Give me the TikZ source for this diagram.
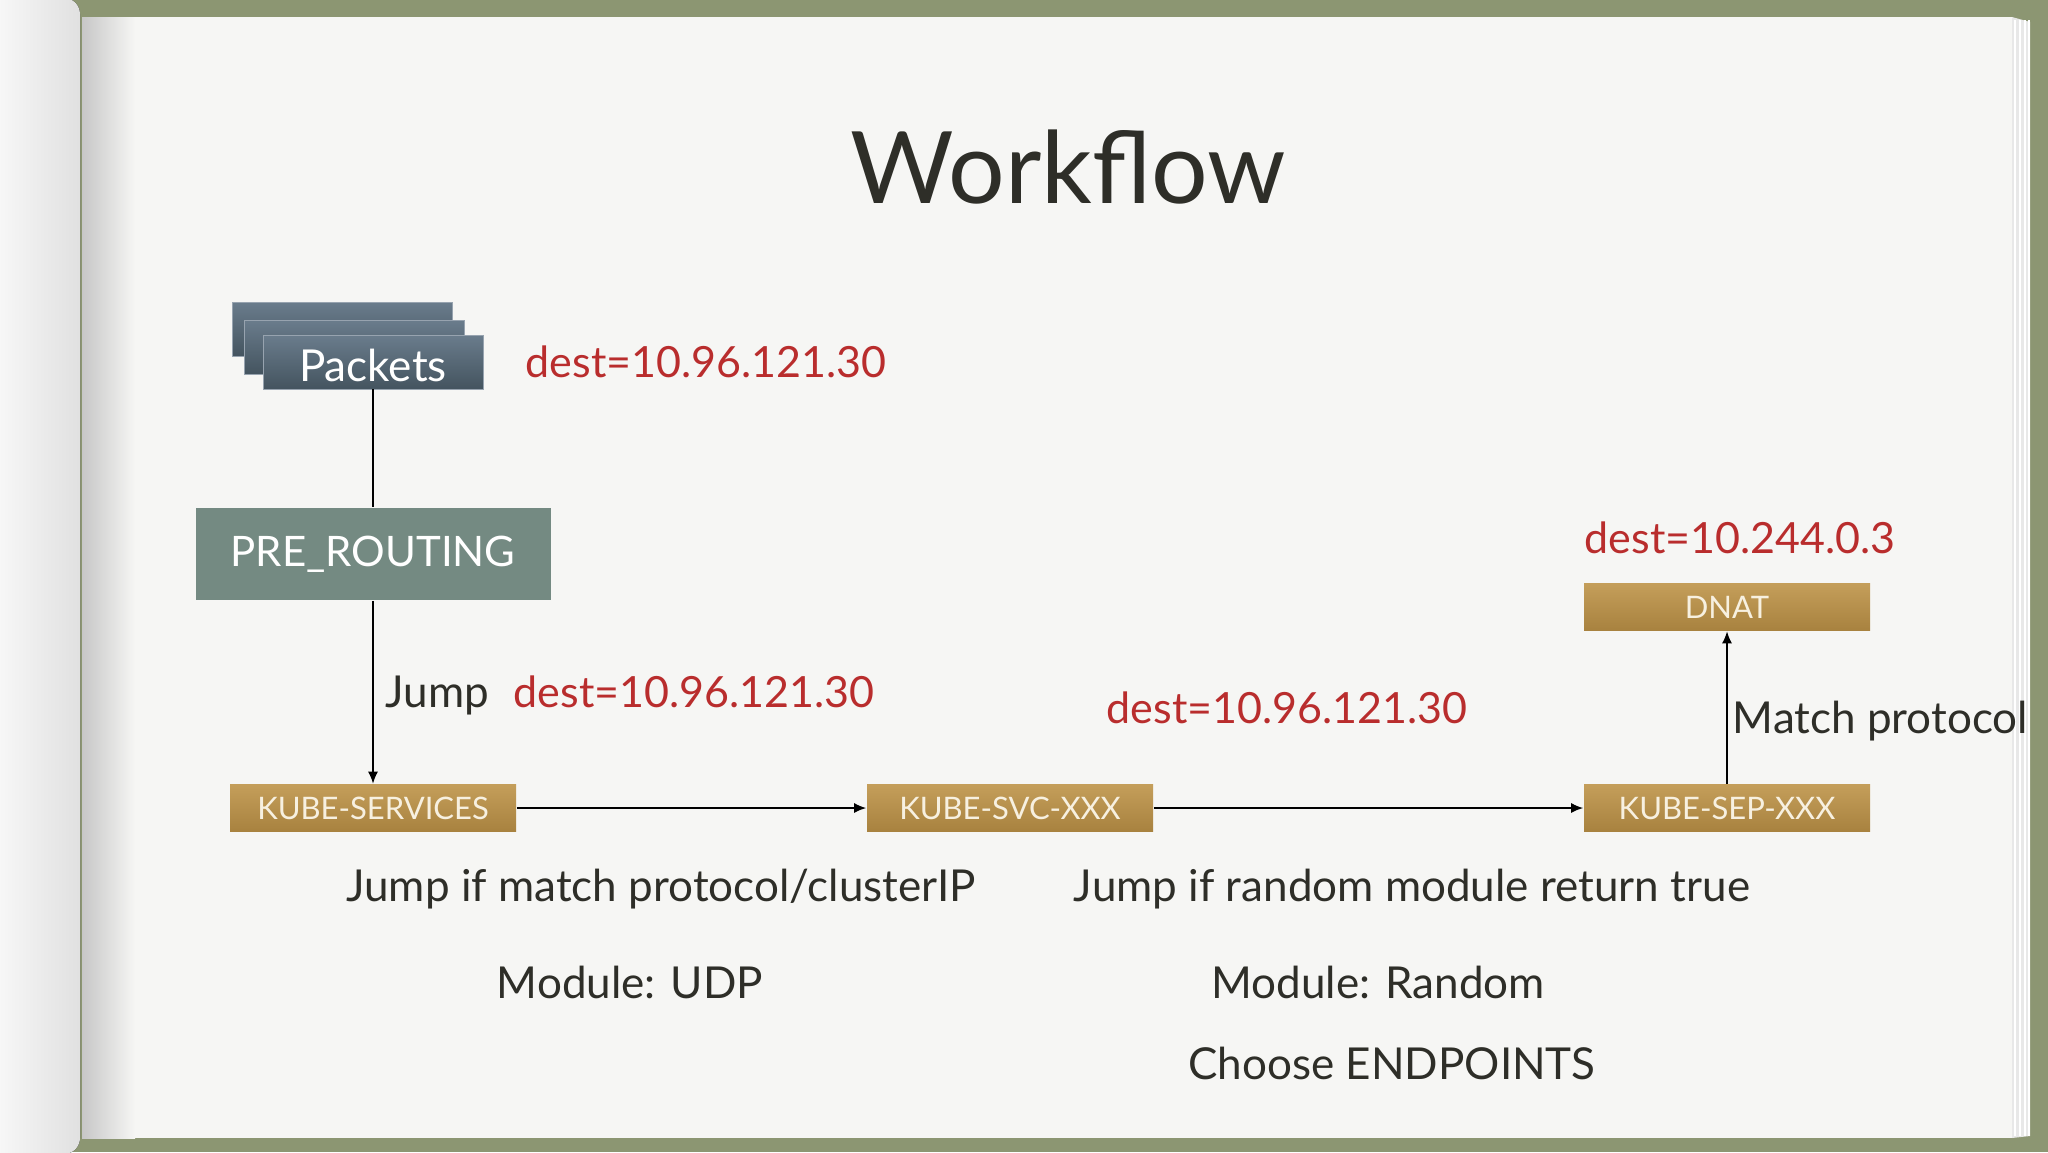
\documentclass[tikz,border=0pt]{standalone}
\usepackage{fontspec}
\setmainfont{Lato}
\usetikzlibrary{positioning}
\usetikzlibrary{arrows.meta}
\definecolor{cloth}{HTML}{8C9672}
\definecolor{paper}{HTML}{F6F6F4}
\definecolor{goldtop}{HTML}{C49E5A}
\definecolor{goldbot}{HTML}{A8823F}
\definecolor{cream}{HTML}{F7F0E0}
\definecolor{hookgreen}{HTML}{748A82}
\definecolor{slatetop}{HTML}{6A7C8C}
\definecolor{slatebot}{HTML}{44545F}
\definecolor{destred}{HTML}{B92D2D}
\definecolor{ink}{HTML}{2E2E28}
\tikzset{
        label_base/.style={inner sep=0pt},
        % Chain boxes
        chain_box/.style={label_base, rectangle, top color=goldtop, bottom color=goldbot, text=cream, minimum width=286pt, minimum height=47pt, font=\fontsize{31}{31}\selectfont},
        % Hook box
        hook_box/.style={label_base, rectangle, fill=hookgreen, text=white, minimum width=355pt, minimum height=92pt, font=\fontsize{42}{42}\selectfont},
        % Packet stack
        packet_box/.style={label_base, rectangle, top color=slatetop, bottom color=slatebot, draw=slatetop!70!white, line width=0.8pt, minimum width=220pt, minimum height=54pt},
        % Red destination labels
        dest_label/.style={label_base, text=destred, font=\fontsize{43}{43}\selectfont},
        % Black notes
        note_label/.style={label_base, text=ink, font=\fontsize{44}{44}\selectfont}
}
\begin{document}
\begin{tikzpicture}[
            x=1pt, y=-1pt,
            ->, >={Latex[length=12pt,width=10pt]},
            line width=1.6pt
        ]
            \useasboundingbox (0,0) rectangle (2048,1152);
            % book background
            \begin{scope}[-]
                \fill[cloth] (0,0) rectangle (2048,1152);
                \fill[paper] (82,17) rectangle (2012,1138);
                \fill[left color=black!22, right color=paper] (82,17) rectangle (135,1138);
                \fill[black!9] (2012,17) -- (2030,22) -- (2030,1136) -- (2012,1138) -- cycle;
                \foreach \xe in {2015,2020,2025,2029}
                    \draw[white, line width=1.2pt] (\xe,20) -- (\xe,1136);
                \fill[left color=white, right color=black!12, rounded corners=16pt] (-30,-2) rectangle (80,1154);
            \end{scope}

            \node[label_base, text=ink, font=\fontsize{100}{100}\selectfont, anchor=base] (title) at (1068,203) {Workflow};

            % packets
            \node[packet_box] (pkt3) at (342,329) {};
            \node[packet_box] (pkt2) at (354.5,347) {};
            \node[packet_box] (pkt) at (373,362) {};
            \node[label_base, text=white, font=\fontsize{44}{44}\selectfont, anchor=base] (pkttext) at (373,381) {Packets};
            \node[dest_label, anchor=base west] (dest1) at (525,377) {dest=10.96.121.30};

            \node[hook_box] (pre) at (373,554) {PRE\_ROUTING};

            % chains
            \node[chain_box] (services) at (373,808) {KUBE-SERVICES};
            \node[chain_box] (svc) at (1010,808) {KUBE-SVC-XXX};
            \node[chain_box] (sep) at (1727,808) {KUBE-SEP-XXX};
            \node[chain_box] (dnat) at (1727,607) {DNAT};

            \node[note_label, anchor=base west] (jump) at (385,707) {Jump};
            \node[dest_label, anchor=base west] (dest2) at (513,707) {dest=10.96.121.30};
            \node[dest_label, anchor=base west] (dest3) at (1106,723) {dest=10.96.121.30};
            \node[dest_label, anchor=base west] (dest4) at (1584,553) {dest=10.244.0.3};
            \node[note_label, anchor=base west] (match) at (1732,733) {Match protocol};

            \node[note_label, anchor=base] (rule1) at (661,901) {Jump if match protocol/clusterIP};
            \node[note_label, anchor=base] (rule2) at (1412,901) {Jump if random module return true};
            \node[note_label, anchor=base] (mod1) at (630,998) {Module: UDP};
            \node[note_label, anchor=base] (mod2) at (1378,998) {Module: Random};
            \node[note_label, anchor=base] (choose) at (1392,1079) {Choose ENDPOINTS};

            \draw[-] (pkt) -- (pre);
            \draw (pre) -- (services);
            \draw (services) -- (svc);
            \draw (svc) -- (sep);
            \draw (sep) -- (dnat);
        \end{tikzpicture}
\end{document}
